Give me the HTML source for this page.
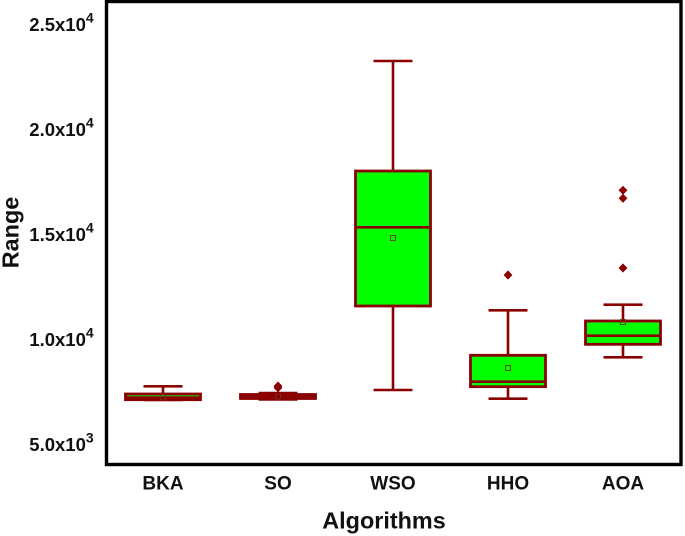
<!DOCTYPE html>
<html>
<head>
<meta charset="utf-8">
<title>Range by Algorithm</title>
<style>
html,body{margin:0;padding:0;background:#fff;width:685px;height:536px;overflow:hidden}
svg{display:block}
text{font-family:"Liberation Sans",Arial,sans-serif;font-weight:bold;fill:#111}
</style>
</head>
<body>
<svg id="chart" width="685" height="536" viewBox="0 0 685 536" xmlns="http://www.w3.org/2000/svg">
  <rect x="0" y="0" width="685" height="536" fill="#ffffff"/>
  <g id="marks"></g>
  <rect x="106.5" y="1.5" width="574.5" height="463" fill="none" stroke="#000" stroke-width="3.4"/>
  <g id="yticks"></g>
  <g id="xticks"></g>
  <text transform="translate(18.5,232.5) rotate(-90)" text-anchor="middle" font-size="23.4">Range</text>
  <text x="384" y="528.3" text-anchor="middle" font-size="23.4">Algorithms</text>
</svg>
<script>
var categories = ["BKA", "SO", "WSO", "HHO", "AOA"];
var whiskerHigh = [7748, 7429, 23238, 11367, 11633];
var q3 = [7381, 7357, 18000, 9224, 10857];
var medians = [7214, 7260, 15319, 7967, 10157];
var q1 = [7110, 7167, 11571, 7729, 9748];
var whiskerLow = [7095, 7119, 7571, 7157, 9129];
var means = [7220, 7260, 14810, 8619, 10810];
var outliers = [[], [7680, 7760], [], [13048], [13381, 16700, 17081]];
var tickValues = [5000, 10000, 15000, 20000, 25000];
var tickMantissas = ["5.0", "1.0", "1.5", "2.0", "2.5"];
var tickExponents = ["3", "4", "4", "4", "4"];

var NS = "http://www.w3.org/2000/svg";
var RED = "#8b0000";
function yScale(v) { return 444 - (v - 5000) * 0.021; }
function xScale(i) { return 163 + i * 115; }
function make(tag, attrs, parent) {
  var el = document.createElementNS(NS, tag);
  for (var k in attrs) { el.setAttribute(k, attrs[k]); }
  parent.appendChild(el);
  return el;
}
var marks = document.getElementById("marks");
var BOX_HALF = 37.5;
var CAP_HALF = 19.5;
categories.forEach(function (cat, i) {
  var cx = xScale(i);
  var g = make("g", {}, marks);
  
  
  var upper = make("line", {x1: cx, x2: cx, y1: yScale(whiskerHigh[i]), y2: yScale(q3[i]), stroke: RED, "stroke-width": 2.6}, g);
  
  
  var lower = make("line", {x1: cx, x2: cx, y1: yScale(q1[i]), y2: yScale(whiskerLow[i]), stroke: RED, "stroke-width": 2.6}, g);
  
  
  var capHi = make("line", {x1: cx - CAP_HALF, x2: cx + CAP_HALF, y1: yScale(whiskerHigh[i]), y2: yScale(whiskerHigh[i]), stroke: RED, "stroke-width": 2.6}, g);
  
  
  var capLo = make("line", {x1: cx - CAP_HALF, x2: cx + CAP_HALF, y1: yScale(whiskerLow[i]), y2: yScale(whiskerLow[i]), stroke: RED, "stroke-width": 2.6}, g);
  
  
  var box = make("rect", {x: cx - BOX_HALF, y: yScale(q3[i]), width: BOX_HALF * 2, height: yScale(q1[i]) - yScale(q3[i]), fill: "#00ff00", stroke: RED, "stroke-width": 2.8}, g);
  
  
  var med = make("line", {x1: cx - BOX_HALF, x2: cx + BOX_HALF, y1: yScale(medians[i]), y2: yScale(medians[i]), stroke: RED, "stroke-width": 2.6}, g);
  
  
  var mean = make("rect", {x: cx - 2.5, y: yScale(means[i]) - 2.5, width: 5, height: 5, fill: "none", stroke: "#6b3a10", "stroke-width": 0.9}, g);
  
  
  outliers[i].forEach(function (v) {
    var y = yScale(v);
    var d = make("polygon", {points: (cx - 4.4) + "," + y + " " + cx + "," + (y - 4.6) + " " + (cx + 4.4) + "," + y + " " + cx + "," + (y + 4.6), fill: RED}, g);
    
    
  });
  var lab = make("text", {x: cx, y: 489.3, "text-anchor": "middle", "font-size": 19}, document.getElementById("xticks"));
  
  
  lab.textContent = cat;
});
tickValues.forEach(function (v, i) {
  var y = yScale(v);
  var t = make("text", {x: 29.3, y: y + 7.2, "font-size": 18.5}, document.getElementById("yticks"));
  
  
  t.appendChild(document.createTextNode(tickMantissas[i] + "x10"));
  var s = make("tspan", {dy: -8.5, "font-size": 14}, t);
  s.textContent = tickExponents[i];
});
</script>
</body>
</html>
